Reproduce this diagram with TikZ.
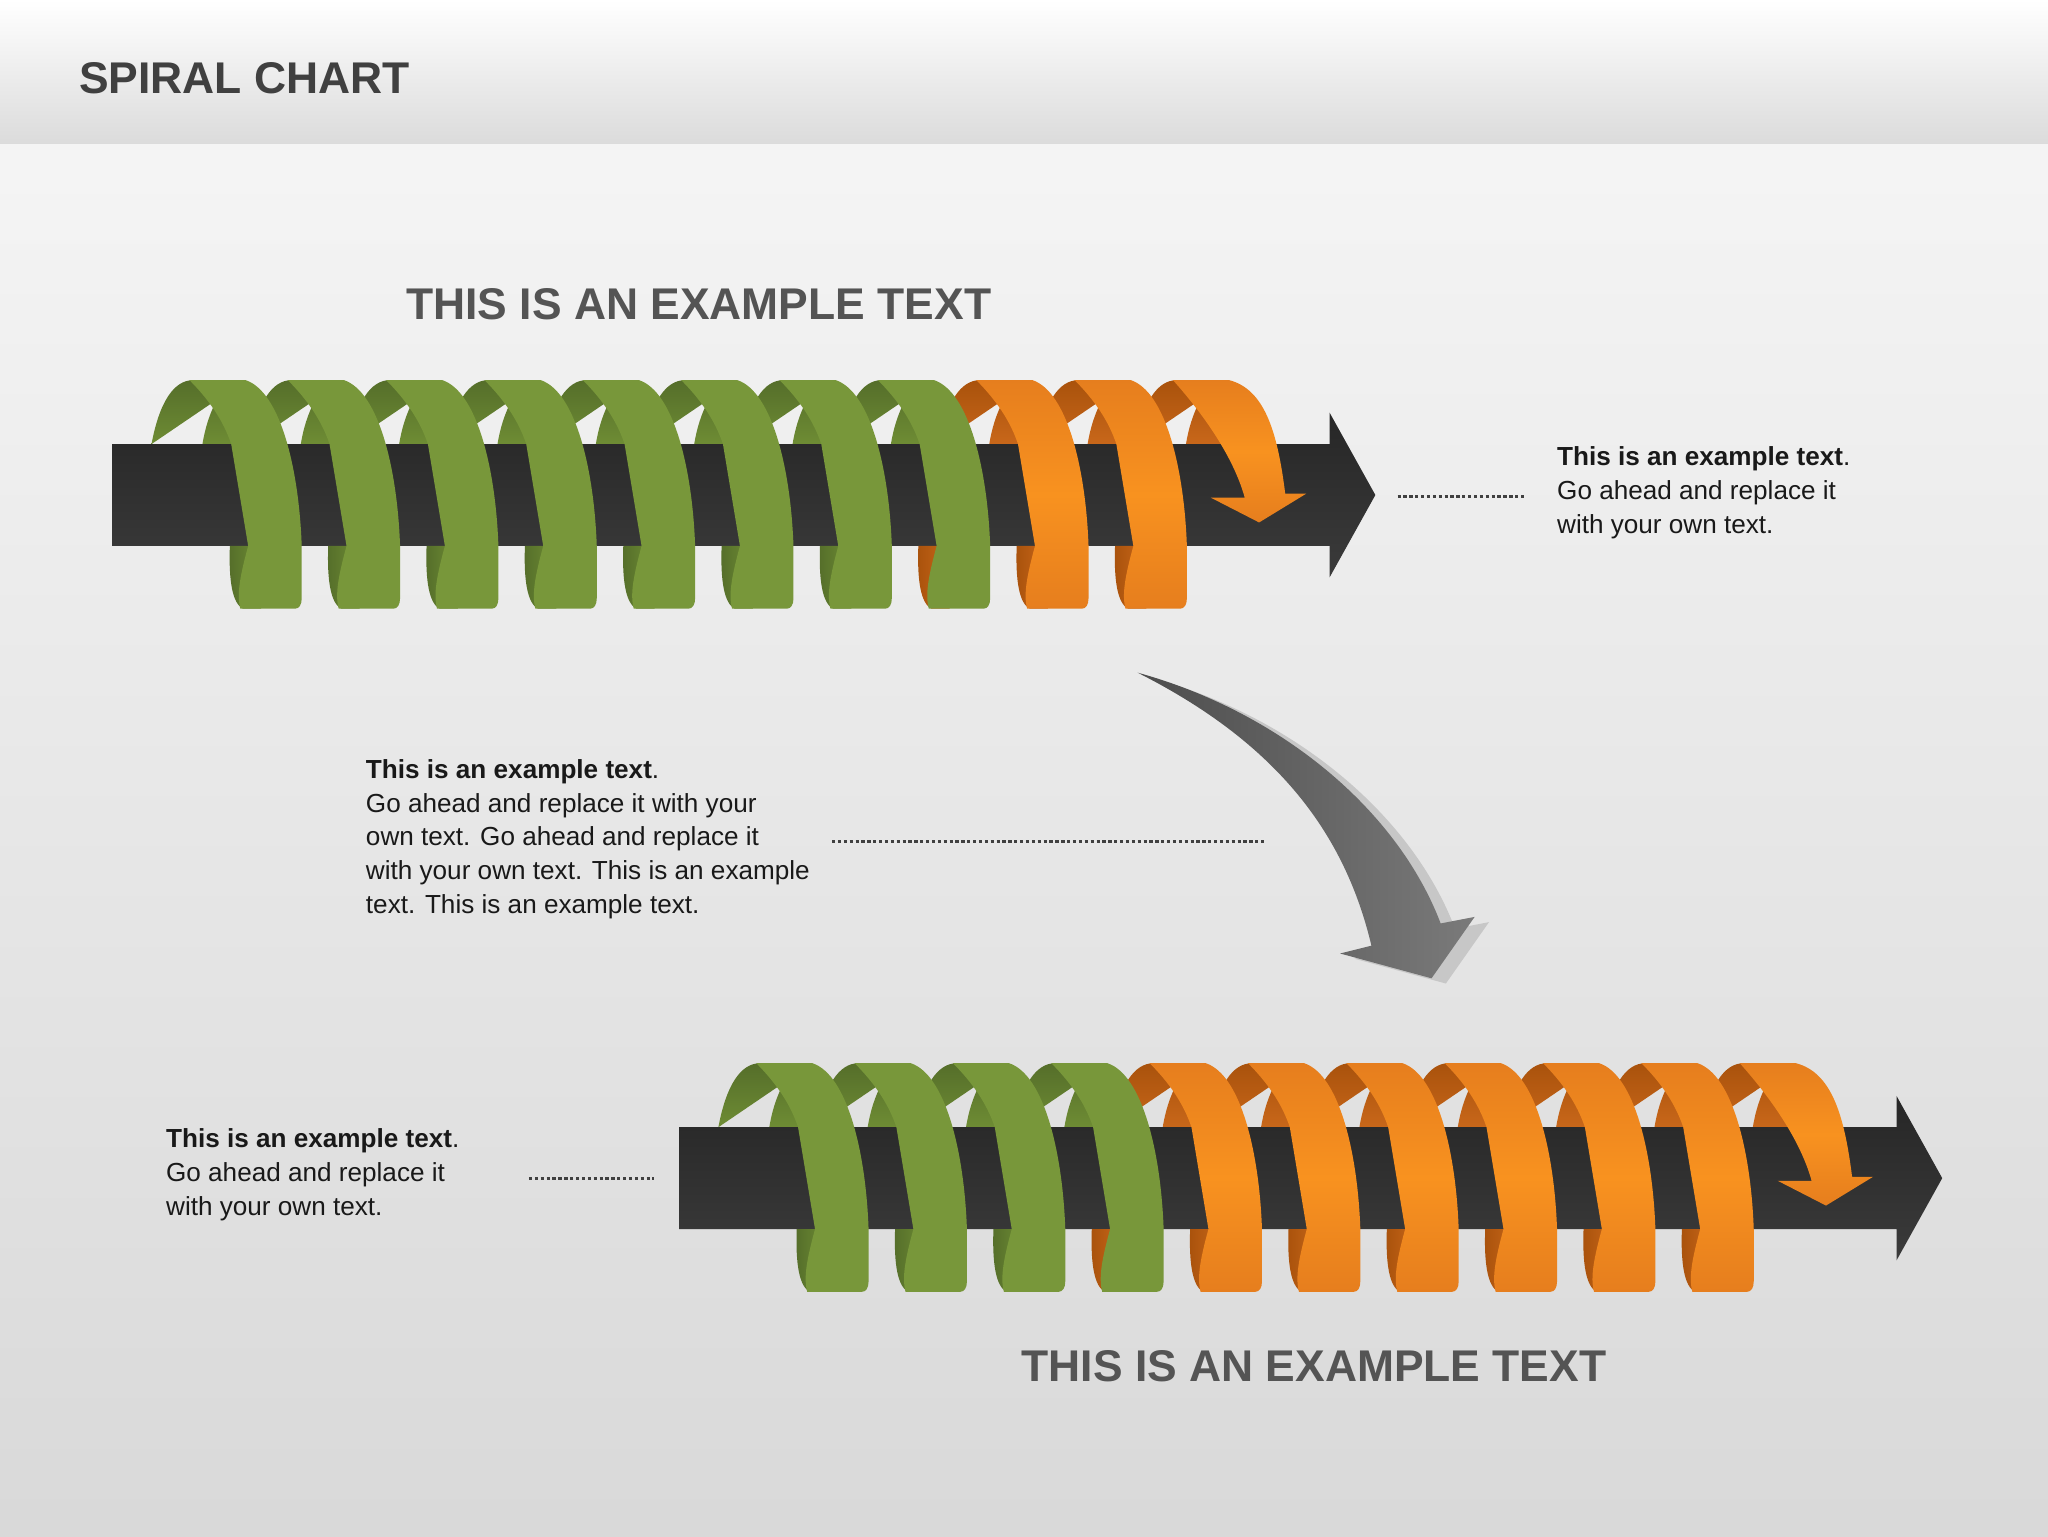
\documentclass[tikz,border=0pt]{standalone}
\usepackage{fontspec}
\setmainfont{Liberation Sans}
\begin{document}
\begin{tikzpicture}[x=1pt,y=-1pt,
  txt/.style={inner sep=0pt,anchor=north west,align=left,font=\fontsize{20}{26}\selectfont,text=black!90},
  head/.style={font=\fontsize{34}{40}\selectfont\bfseries,text=black!67},
  dots/.style={line width=2.5pt,dash pattern=on 2.5pt off 2pt,draw=black!75}]
\definecolor{gfront}{HTML}{78973A}
\definecolor{gback}{HTML}{556E2A}
\definecolor{gbackl}{HTML}{6E8C34}
\definecolor{ofront}{HTML}{E67E1E}
\definecolor{ofrontl}{HTML}{F8921F}
\definecolor{oback}{HTML}{A9520C}
\definecolor{obackl}{HTML}{C8671A}
\useasboundingbox (0,0) rectangle (1568,1176);
\shade[top color=white!97!black,bottom color=black!15] (0,0) rectangle (1568,1176);
\shade[top color=white,bottom color=black!14] (0,0) rectangle (1568,110);
\node[anchor=west,font=\fontsize{34}{40}\selectfont\bfseries,text=black!75] (title) at (57,60) {SPIRAL CHART};
\node[head] (h1) at (535,233) {THIS IS AN EXAMPLE TEXT};
\node[head] (h2) at (1006,1046) {THIS IS AN EXAMPLE TEXT};
% spirals
\foreach \ox/\oy/\ng in {0/0/7, 434/523/3}{
  \begin{scope}[shift={(\ox,\oy)}]
  % back arches
  \foreach \k in {0,...,10}{
    \ifnum\k>\ng \def\bc{oback}\def\bl{obackl}\else\def\bc{gback}\def\bl{gbackl}\fi
    \shade[top color=\bc,bottom color=\bl,shift={(75.3*\k,0)}]
      (116,340) .. controls (122,308) and (133,291) .. (148,291) -- (185,291) -- (190,340) -- (155,340) .. controls (157,328) and (160,318) .. (166,306) -- cycle;
  }
  % bar
  \shade[top color=black!85,bottom color=black!77] (86,340) -- (1018,340) -- (1018,316) -- (1053,379) -- (1018,442) -- (1018,418) -- (86,418) -- cycle;
  % slivers and fronts
  \foreach \k in {0,...,9}{
    \pgfmathtruncatemacro{\kk}{\k+1}
    \ifnum\kk>\ng \def\sc{oback}\def\sl{obackl}\else\def\sc{gback}\def\sl{gbackl}\fi
    \shade[left color=\sc,right color=\sl,shift={(75.3*\k,0)}]
      (176,418) .. controls (175,445) and (178,462) .. (186,466) -- (200,466) -- (200,418) -- cycle;
    \ifnum\k>\ng
      \shade[top color=ofront,bottom color=ofront,middle color=ofrontl,shift={(75.3*\k,0)}]
        (145,291) .. controls (160,306) and (171,322) .. (177,340) -- (190,418) .. controls (184,440) and (181,455) .. (184,466) -- (226,466) .. controls (229,466) and (231,463) .. (231,458) -- (231,418) .. controls (229,360) and (215,300) .. (188,291) -- cycle;
    \else
      \fill[gfront,shift={(75.3*\k,0)}]
        (145,291) .. controls (160,306) and (171,322) .. (177,340) -- (190,418) .. controls (184,440) and (181,455) .. (184,466) -- (226,466) .. controls (229,466) and (231,463) .. (231,458) -- (231,418) .. controls (229,360) and (215,300) .. (188,291) -- cycle;
    \fi
  }
  % arrow coil
  \shade[top color=ofront,bottom color=ofront,middle color=ofrontl,shift={(753,0)}]
    (145,291) .. controls (162,310) and (190,345) .. (200,381) -- (174,381) -- (211,400) -- (247,378) -- (231,378) .. controls (225,330) and (215,298) .. (188,291) -- cycle;
  \end{scope}
}
% curved arrow with shadow
\fill[black!22,shift={(11,4)}] (871,515) .. controls (980,545) and (1070,620) .. (1103,707) -- (1129,702) -- (1096,749) -- (1026,730) -- (1050,724) .. controls (1030,640) and (980,570) .. (871,515) -- cycle;
\shade[left color=black!70,right color=black!52] (871,515) .. controls (980,545) and (1070,620) .. (1103,707) -- (1129,702) -- (1096,749) -- (1026,730) -- (1050,724) .. controls (1030,640) and (980,570) .. (871,515) -- cycle;
% texts
\node[txt] (t1) at (1192,342) {\textbf{This is an example text}.\\Go ahead and replace it\\with your own text.};
\node[txt] (t2) at (280,581) {\textbf{This is an example text}.\\Go ahead and replace it with your\\own text. Go ahead and replace it\\with your own text. This is an example\\text. This is an example text.};
\node[txt] (t3) at (127,864) {\textbf{This is an example text}.\\Go ahead and replace it\\with your own text.};
\coordinate (d1a) at (1070,380); \coordinate (d1b) at (1167,380);
\coordinate (d2a) at (637,644); \coordinate (d2b) at (968,644);
\coordinate (d3a) at (405,902); \coordinate (d3b) at (501,902);
\draw[dots] (d1a) -- (d1b);
\draw[dots] (d2a) -- (d2b);
\draw[dots] (d3a) -- (d3b);
\end{tikzpicture}
\end{document}
